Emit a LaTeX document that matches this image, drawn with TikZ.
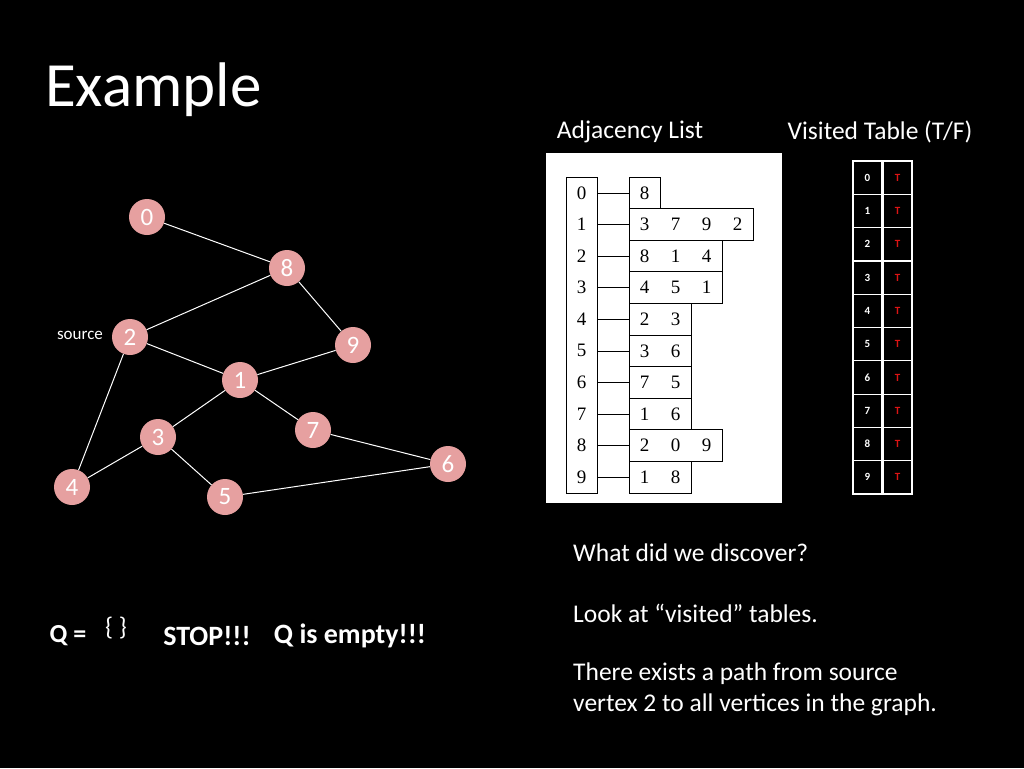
\documentclass[tikz,border=0pt]{standalone}
\usepackage{fontspec}
\setmainfont{Carlito}
\newfontfamily\serifnum{Liberation Serif}
\begin{document}
\begin{tikzpicture}[x=1pt,y=-1pt,
  vert/.style={circle,fill=pink1,minimum size=36pt,inner sep=0pt,text=white,font=\fontsize{25}{25}\selectfont},
  edge/.style={draw=white,line width=1pt},
  adjnum/.style={inner sep=0pt,font=\serifnum\fontsize{19}{19}\selectfont},
  vcell/.style={draw=white,line width=1.2pt,minimum width=29pt,minimum height=33.3pt,inner sep=0pt,font=\bfseries\fontsize{11}{11}\selectfont},
  txt/.style={text=white,font=\fontsize{25.5}{30}\selectfont,inner sep=0pt},
  big/.style={text=white,font=\bfseries\fontsize{28}{28}\selectfont,inner sep=0pt}]
\definecolor{pink1}{RGB}{230,160,160}
\definecolor{tred}{RGB}{220,20,20}
\fill[black] (0,0) rectangle (1024,768);
\useasboundingbox (0,0) rectangle (1024,768);
\node[txt,font=\fontsize{63}{63}\selectfont,anchor=west] (title) at (45,90) {Example};
% graph
\foreach \n/\x/\y in {0/147/217,8/287/268,2/130/337,9/353/345,1/240/380,7/313/430,3/158/437,6/448/464,4/72/487,5/225/497}
  \node[vert] (v\n) at (\x,\y) {\n};
\foreach \a/\b in {0/8,8/2,8/9,2/1,9/1,1/7,1/3,2/4,4/3,3/5,7/6,5/6}
  \draw[edge] (v\a) -- (v\b);
\node[txt,font=\fontsize{17}{17}\selectfont] (src) at (80,335) {source};
\node[txt,font=\bfseries\fontsize{26}{26}\selectfont] (q) at (68,636) {Q =};
\node[txt] (br) at (116,628) {\{ \}};
\node[big] (stop) at (207,636) {STOP!!!};
\node[big] (emp) at (350,636) {Q is empty!!!};
% adjacency
\node[txt] (adjt) at (630,132) {Adjacency List};
\node[txt] (vist) at (880,132) {Visited Table (T/F)};
\fill[white] (546,153) rectangle (782,503);
\draw[black,line width=0.7pt] (566,177) rectangle (597,493);
\foreach \i/\lst/\n in {0/{8}/1,1/{3,7,9,2}/4,2/{8,1,4}/3,3/{4,5,1}/3,4/{2,3}/2,5/{3,6}/2,6/{7,5}/2,7/{1,6}/2,8/{2,0,9}/3,9/{1,8}/2}{
  \pgfmathsetmacro\yy{177+31.6*\i+15.8}
  \pgfmathsetmacro\yt{177+31.6*\i}
  \pgfmathsetmacro\yb{177+31.6*\i+31.6}
  \pgfmathsetmacro\xr{629+31*\n}
  \node[adjnum] (k\i) at (581.5,\yy) {\i};
  \coordinate (ls\i) at (597,\yy);
  \coordinate (le\i) at (629,\yy);
  \draw[black,line width=0.6pt] (ls\i) -- (le\i);
  \draw[black,line width=0.7pt] (629,\yt) rectangle (\xr,\yb);
  \foreach \v [count=\c] in \lst {
    \node[adjnum] at (629+31*\c-15.5,\yy) {\v};
  }
}
% visited
\foreach \i in {0,...,9}{
  \pgfmathsetmacro\yy{161+33.3*\i+16.65}
  \node[vcell,text=white] (vi\i) at (867.5,\yy) {\i};
  \node[vcell,text=tred] (vt\i) at (897.5,\yy) {T};
}
% bottom text
\node[txt,anchor=west] (d1) at (573,553) {What did we discover?};
\node[txt,anchor=west] (d2) at (573,613) {Look at “visited” tables.};
\node[txt,anchor=west] (d3) at (573,674) {There exists a path from source};
\node[txt,anchor=west] (d4) at (573,705) {vertex 2 to all vertices in the graph.};
\end{tikzpicture}
\end{document}
